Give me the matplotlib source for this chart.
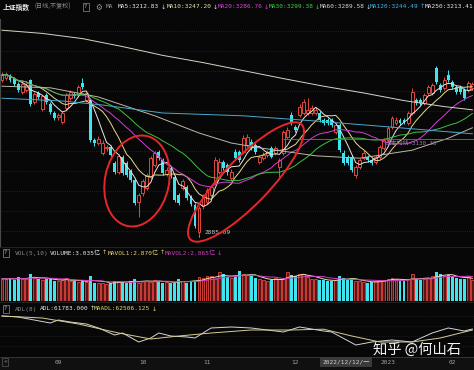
import numpy as np
import pandas as pd
import matplotlib
matplotlib.use("Agg")
import matplotlib.pyplot as plt
from matplotlib.patches import Ellipse, Rectangle
from matplotlib.transforms import blended_transform_factory

# ---------------- data ----------------
opens = [3277.5, 3282.5, 3287.5, 3280, 3267.5, 3247.5, 3252.5, 3277.5, 3222.5, 3245,
         3205, 3240, 3217.5, 3195, 3185, 3172.5, 3207.5, 3232.5, 3242.5, 3240,
         3270, 3227.5, 3227.5, 3127.5, 3120, 3095, 3107.5, 3110, 3070, 3047.5,
         3085, 3070, 3050, 3027.5, 2972.5, 2995, 3007.5, 3035, 3065, 3097.5,
         3077.5, 3042.5, 3057.5, 3035, 2990, 3007.5, 3010, 2985, 2965, 2897.5,
         2962.5, 2972.5, 2990, 3022.5, 3047.5, 3072.5, 3065, 3032.5, 3097.5, 3097.5,
         3097.5, 3115, 3122.5, 3115, 3072.5, 3082.5, 3090, 3107.5, 3095, 3060,
         3095, 3135, 3190, 3160, 3190, 3195, 3195, 3195, 3195, 3195,
         3177.5, 3177.5, 3177.5, 3147.5, 3165, 3095, 3085, 3085, 3040, 3060,
         3082.5, 3085, 3077.5, 3072.5, 3085, 3107.5, 3127.5, 3160, 3170, 3177.5,
         3177.5, 3170, 3195, 3227.5, 3227.5, 3220, 3245, 3245, 3307.5, 3265,
         3257.5, 3290, 3272.5, 3260, 3257.5, 3252.5, 3252.5, 3257.5]
closes = [3290, 3292.5, 3277.5, 3267.5, 3252.5, 3267.5, 3265, 3217.5, 3242.5, 3235,
          3237.5, 3222.5, 3197.5, 3182.5, 3190, 3195, 3240, 3247.5, 3237.5, 3260,
          3260, 3245, 3127.5, 3120, 3130, 3120, 3110, 3090, 3047.5, 3087.5,
          3045, 3040, 3027.5, 2970, 2990, 3025, 3040, 3082.5, 3095, 3082.5,
          3045, 3052.5, 3037.5, 2977.5, 2970, 3025, 2982.5, 2967.5, 2912.5, 2957.5,
          2987.5, 3002.5, 3010, 3077.5, 3072.5, 3057.5, 3047.5, 3047.5, 3082.5, 3077.5,
          3132.5, 3135, 3107.5, 3097.5, 3085, 3090, 3097.5, 3085, 3107.5, 3077.5,
          3147.5, 3152.5, 3170, 3152.5, 3210, 3222.5, 3202.5, 3207.5, 3202.5, 3177.5,
          3170, 3170, 3165, 3165, 3102.5, 3070, 3070, 3052.5, 3060, 3077.5,
          3095, 3077.5, 3070, 3085, 3110, 3127.5, 3157.5, 3182.5, 3177.5, 3170,
          3172.5, 3195, 3247.5, 3220, 3220, 3240, 3260, 3265, 3272.5, 3252.5,
          3277.5, 3277.5, 3260, 3247.5, 3247.5, 3232.5, 3270, 3267.5]
highs = [3297.5, 3297.5, 3292.5, 3285, 3272.5, 3272.5, 3270, 3280, 3247.5, 3250,
         3240, 3245, 3222.5, 3200, 3195, 3200, 3245, 3252.5, 3247.5, 3265,
         3282.5, 3250, 3232.5, 3132.5, 3137.5, 3127.5, 3115, 3115, 3075, 3092.5,
         3090, 3075, 3055, 3032.5, 2995, 3030, 3045, 3087.5, 3100, 3102.5,
         3082.5, 3060, 3062.5, 3040, 2995, 3030, 3015, 2990, 2970, 2962.5,
         2992.5, 3007.5, 3015, 3085, 3082.5, 3077.5, 3070, 3055, 3105, 3102.5,
         3140, 3142.5, 3130, 3120, 3090, 3097.5, 3102.5, 3112.5, 3112.5, 3082.5,
         3152.5, 3160, 3197.5, 3165, 3217.5, 3230, 3232.5, 3215, 3210, 3200,
         3182.5, 3182.5, 3182.5, 3170, 3170, 3102.5, 3090, 3090, 3065, 3082.5,
         3102.5, 3090, 3082.5, 3090, 3115, 3132.5, 3162.5, 3187.5, 3185, 3182.5,
         3182.5, 3200, 3257.5, 3232.5, 3232.5, 3245, 3265, 3270, 3312.5, 3270,
         3285, 3302.5, 3277.5, 3265, 3262.5, 3257.5, 3275, 3272.5]
lows = [3272.5, 3277.5, 3272.5, 3262.5, 3247.5, 3242.5, 3247.5, 3212.5, 3217.5, 3230,
        3200, 3217.5, 3192.5, 3177.5, 3177.5, 3167.5, 3202.5, 3227.5, 3232.5, 3235,
        3255, 3222.5, 3122.5, 3112.5, 3115, 3090, 3100, 3085, 3042.5, 3042.5,
        3040, 3035, 3022.5, 2965, 2935, 2987.5, 3002.5, 3030, 3060, 3077.5,
        3040, 3037.5, 3032.5, 2972.5, 2965, 3002.5, 2977.5, 2962.5, 2907.5, 2885.09,
        2955, 2967.5, 2985, 3017.5, 3042.5, 3052.5, 3040, 3025, 3077.5, 3072.5,
        3092.5, 3110, 3102.5, 3092.5, 3067.5, 3077.5, 3085, 3082.5, 3090, 3035,
        3090, 3130, 3165, 3147.5, 3185, 3190, 3190, 3190, 3190, 3172.5,
        3165, 3165, 3160, 3142.5, 3097.5, 3065, 3065, 3047.5, 3032.5, 3055,
        3077.5, 3072.5, 3065, 3067.5, 3080, 3102.5, 3122.5, 3155, 3165, 3165,
        3167.5, 3165, 3190, 3215, 3215, 3215, 3240, 3240, 3267.5, 3247.5,
        3252.5, 3272.5, 3255, 3242.5, 3242.5, 3227.5, 3247.5, 3252.5]
volumes = [3.2, 3.1, 3.3, 3.0, 3.4, 3.2, 3.1, 3.9, 3.3, 3.2,
           3.0, 3.1, 3.3, 2.9, 2.8, 3.0, 3.3, 2.9, 2.8, 2.7,
           2.9, 2.7, 3.6, 2.6, 2.5, 2.6, 2.4, 2.6, 2.9, 2.8,
           2.7, 2.6, 2.8, 3.2, 2.6, 2.9, 2.8, 2.7, 3.0, 2.9,
           2.6, 2.7, 2.5, 2.6, 3.2, 2.9, 2.6, 2.8, 2.9, 3.4,
           3.3, 3.6, 3.5, 3.2, 4.1, 3.8, 3.4, 3.3, 3.4, 4.3,
           3.9, 3.7, 3.5, 3.3, 3.2, 3.0, 2.9, 3.0, 3.3, 3.1,
           3.2, 4.1, 3.7, 3.6, 3.9, 3.8, 3.4, 3.2, 3.1, 3.0,
           3.0, 2.8, 2.9, 3.0, 3.5, 3.3, 3.0, 3.2, 2.9, 2.8,
           2.7, 2.6, 2.7, 2.8, 3.0, 3.0, 3.2, 3.3, 3.1, 2.9,
           2.8, 3.1, 3.8, 3.2, 3.0, 3.1, 3.3, 3.5, 4.2, 3.8,
           3.6, 3.7, 3.5, 3.3, 3.1, 3.2, 3.6, 3.0]

ma60_idx = [0, 12, 24, 38, 49, 57, 64, 78, 89, 102, 111, 117]
ma60_val = [3262, 3258, 3235, 3188, 3145, 3120, 3108, 3088, 3082, 3102, 3132, 3158]
ma120_idx = [0, 15, 25, 40, 60, 78, 99, 117]
ma120_val = [3232, 3225, 3215, 3195, 3188, 3175, 3158, 3143]
ma250_idx = [0, 10, 20, 30, 40, 50, 60, 70, 80, 90, 100, 110, 117]
ma250_val = [3402, 3394, 3381, 3361, 3339, 3321, 3301, 3281, 3262, 3245, 3226, 3211, 3203]

adl_idx = [0, 4, 8, 12, 14, 17, 21, 24, 28, 30, 34, 37, 39, 42, 46, 48, 52, 57, 62, 70,
           74, 80, 82, 88, 92, 97, 102, 107, 111, 115, 117]
adl_val = [67783, 67383, 66183, 64983, 66183, 65383, 64583, 62983, 60183, 60983, 57383,
           58983, 60983, 59783, 59383, 58983, 62983, 63383, 62983, 61383, 63383, 61783,
           61383, 56183, 57383, 58183, 57383, 60983, 62983, 61783, 62583]
maadl_idx = [0, 10, 19, 29, 37, 44, 52, 62, 72, 80, 87, 94, 102, 109, 117]
maadl_val = [67783, 66983, 64583, 60983, 58583, 59783, 60983, 62183, 62183, 62506,
             59783, 57383, 57383, 58983, 62183]

month_labels = ["09", "10", "11", "12", "2023", "02"]
month_pos = [14, 35, 51, 73, 96, 112]
cursor_idx = 80
cursor_label = "2022/12/12/一"
low_idx = 49
low_label = "2885.09"
cost_price = 3130.38
cost_label = "成本均线=3130.38"

ma_labels = ["MA5:3212.83", "MA10:3247.20", "MA20:3286.76", "MA30:3299.38",
             "MA60:3289.58", "MA120:3244.49", "MA250:3213.41"]
ma_arrows = ["↓", "↓", "↓", "↓", "↓", "↑", ""]
vol_labels = ["VOLUME:3.035亿", "MAVOL1:2.870亿", "MAVOL2:2.865亿"]
vol_arrows = ["↑", "↑", "↓"]
adl_labels = ["ADL:61783.000", "MAADL:62506.125"]
adl_arrows = ["↑", "↓"]

# ---------------- style ----------------
BG = "#070707"
RED = "#e0463f"
CYAN = "#3fe4ee"
C_MA = ["#e6e6e6", "#e8d98a", "#d040d0", "#3fbf3f", "#bdb8a6", "#4aa8cc", "#d8d4c6"]
MONO = ["DejaVu Sans Mono", "Noto Sans CJK SC"]
CJK = ["Noto Sans CJK SC", "DejaVu Sans"]
ARW = ["DejaVu Sans"]

o = np.array(opens); c = np.array(closes); h = np.array(highs); l = np.array(lows)
v = np.array(volumes)
N = len(c)
idx = np.arange(N)
up = c >= o

fig = plt.figure(figsize=(4.74, 3.70), dpi=100, facecolor=BG)
ax_main = fig.add_axes([0, 1 - 246 / 370, 1, 227 / 370], facecolor=BG)
ax_vol = fig.add_axes([0, 1 - 301 / 370, 1, 39 / 370], facecolor=BG)
ax_adl = fig.add_axes([0, 1 - 357 / 370, 1, 54 / 370], facecolor=BG)

for ax in (ax_main, ax_vol, ax_adl):
    ax.set_xlim(-0.5, 117.4)
    ax.set_xticks([])
    ax.tick_params(length=0, labelleft=False, labelbottom=False)
    for s in ax.spines.values():
        s.set_visible(False)

# main chart
ax_main.set_ylim(2862.5, 3430)
ax_main.set_yticks(np.arange(2900, 3450, 50))
ax_main.grid(axis="y", color="#3a3a3a", lw=0.5, ls=(0, (1, 2)))
ax_main.spines["left"].set_visible(True)
ax_main.spines["left"].set_color("#4a4a4a")
ax_main.vlines(idx, l, h, colors=np.where(up, RED, CYAN), lw=0.7, zorder=2)
ax_main.bar(idx[up], (c - o)[up], bottom=o[up], width=0.72, facecolor=BG,
            edgecolor=RED, lw=0.7, zorder=3)
ax_main.bar(idx[~up], (o - c)[~up], bottom=c[~up], width=0.72, color=CYAN,
            lw=0, zorder=3)

cs = pd.Series(c)
for n, col in zip([5, 10, 20, 30], C_MA[:4]):
    ax_main.plot(idx, cs.rolling(n, min_periods=1).mean(), color=col, lw=0.7, zorder=4)
ax_main.plot(ma60_idx, ma60_val, color=C_MA[4], lw=0.7, zorder=4)
ax_main.plot(ma120_idx, ma120_val, color=C_MA[5], lw=0.7, zorder=4)
ax_main.plot(ma250_idx, ma250_val, color=C_MA[6], lw=0.7, zorder=4)
ax_main.hlines(cost_price, 70, 117.4, color="#2f8c8c", lw=0.6, zorder=4)
ax_main.text(95.5, cost_price - 4, cost_label, color="#9a7ab0", fontsize=4.2,
             family=MONO, va="top", ha="left", zorder=5)
ax_main.annotate(low_label, xy=(low_idx, l[low_idx]), xytext=(low_idx + 1.5, 2895),
                 color="#c8c8c8", fontsize=4.4, family=MONO, va="center",
                 arrowprops=dict(arrowstyle="-", color="#c8c8c8", lw=0.5), zorder=5)

# volume
ax_vol.set_ylim(0, 5.571)
ax_vol.bar(idx[up], v[up], width=0.72, facecolor="#5a1616", edgecolor=RED, lw=0.6)
ax_vol.bar(idx[~up], v[~up], width=0.72, color=CYAN, lw=0)
vs = pd.Series(v)
ax_vol.plot(idx, vs.rolling(5, min_periods=1).mean(), color="#e8e0b0", lw=0.7)
ax_vol.plot(idx, vs.rolling(10, min_periods=1).mean(), color="#d040c0", lw=0.7)

# ADL
ax_adl.set_ylim(51383, 72983)
ax_adl.set_yticks([55783, 59783, 63783, 67783])
ax_adl.grid(axis="y", color="#2e2e2e", lw=0.5, ls=(0, (1, 2)))
ax_adl.plot(adl_idx, adl_val, color="#d4d4d4", lw=0.7)
ax_adl.plot(maadl_idx, maadl_val, color="#d6cc94", lw=0.7)

# ---------------- overlay (pixel coordinates) ----------------
ov = fig.add_axes([0, 0, 1, 1])
ov.set_xlim(0, 474)
ov.set_ylim(370, 0)
ov.axis("off")


def T(x, y, s, col, fs=4.4, fam=MONO, **kw):
    ov.text(x, y, s, color=col, fontsize=fs, family=fam, va="center", ha="left", **kw)


def qbox(x, y):
    T(x, y, "?", "#b0b0b0", fs=4.2, fam=ARW,
      bbox=dict(boxstyle="square,pad=0.25", fc="none", ec="#8a8a8a", lw=0.5))


# title row
T(3, 7, "上证指数", "#f0f0f0", fs=4.9, fam=CJK, weight="bold")
T(35, 7, "(日线,不复权)", "#8c8c8c", fs=4.4, fam=CJK)
qbox(84, 7)
T(95, 7, "⚙", "#9a9a9a", fs=5.5, fam=ARW)
T(106, 7, "MA", "#9a9a9a")
ma_x = [118, 167, 218, 269, 320, 370, 425]
ma_tc = ["#e8e8e8", "#ece4b0", "#e040e0", "#40d040", "#d8d8d8", "#40b8f0", "#e8e8e8"]
for x, s, a, col in zip(ma_x, ma_labels, ma_arrows, ma_tc):
    T(x, 7, s, col)
    if a:
        T(x + len(s) * 3.68 + 2, 7, a, col, fam=ARW)

# volume header
qbox(4, 253)
T(15, 253, "VOL(5,10)", "#8c8c8c")
vol_x = [50, 108, 165]
vol_tc = ["#e8e8e8", "#e8d870", "#d040c0"]
for x, s, a, col in zip(vol_x, vol_labels, vol_arrows, vol_tc):
    T(x, 253, s, col)
    T(x + 52, 253, a, "#e8d870" if col == "#e8e8e8" else col, fam=ARW)

# ADL header
qbox(4, 309)
T(15, 309, "ADL(8)", "#8c8c8c")
adl_x = [40, 94]
adl_tc = ["#e8e8e8", "#e8d870"]
for x, s, a, col in zip(adl_x, adl_labels, adl_arrows, adl_tc):
    T(x, 309, s, col)
    T(x + len(s) * 3.68 + 2, 309, a, col, fam=ARW)

# separators
ov.plot([0, 474], [247, 247], color="#262626", lw=0.6)
ov.plot([0, 474], [302, 302], color="#262626", lw=0.6)

# x-axis strip
ov.add_patch(Rectangle((0, 357), 474, 13, fc="#101010", ec="none"))
ov.plot([0, 474], [357, 357], color="#3a3a3a", lw=0.6)
T(3.5, 362, "«", "#9a9a9a", fs=4.4, fam=ARW,
  bbox=dict(boxstyle="square,pad=0.2", fc="none", ec="#5a5a5a", lw=0.5))
btf = blended_transform_factory(ax_adl.transData, ov.transData)
for p, s in zip(month_pos, month_labels):
    ov.text(p, 362, s, transform=btf, color="#a0a0a0", fontsize=4.4, family=MONO,
            ha="center", va="center")
ov.text(cursor_idx - 0.3, 362, cursor_label, transform=btf, color="#d0d0d0",
        fontsize=4.4, family=MONO, ha="left", va="center",
        bbox=dict(boxstyle="square,pad=0.35", fc="#3a3a3a", ec="none"))

# red hand-drawn circles
ov.add_patch(Ellipse((137, 181), 64, 92, angle=12, fill=False, ec="#e8262a", lw=1.4))
ov.add_patch(Ellipse((246, 182), 160, 46, angle=-46, fill=False, ec="#e8262a", lw=1.4))

# watermark
T(373, 350, "知乎 @何山石", "#f4f4f4", fs=10.3, fam=CJK)

fig.savefig("out.png", dpi=100, facecolor=BG)
